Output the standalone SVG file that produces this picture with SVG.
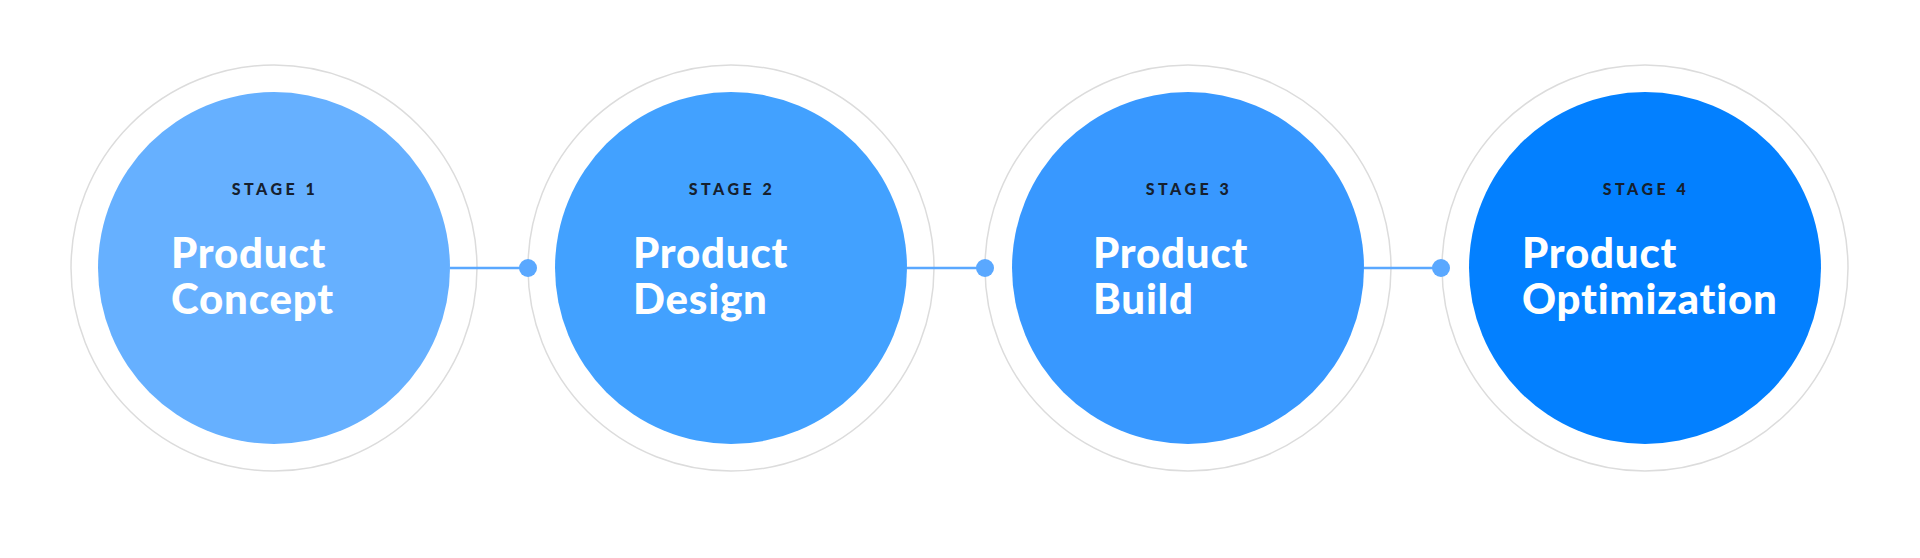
<svg xmlns="http://www.w3.org/2000/svg" width="1920" height="558" viewBox="0 0 1920 558">
<style>
.outer{fill:#fff;stroke:#dcdcdc;stroke-width:1.5}
.stage{font-family:Lato,"Liberation Sans",sans-serif;font-weight:900;font-size:16px;letter-spacing:3.5px;fill:#16202e;text-anchor:middle}
.title{font-family:Lato,"Liberation Sans",sans-serif;font-weight:900;font-size:42px;letter-spacing:0.8px;fill:#fff}
.conn{stroke:#5aa8ff;stroke-width:2.5}
.dot{fill:#5aa8ff}
</style>
<rect width="1920" height="558" fill="#fff"/>
<g id="outer-rings">
<circle class="outer" cx="274" cy="268" r="203"/>
<circle class="outer" cx="731" cy="268" r="203"/>
<circle class="outer" cx="1188" cy="268" r="203"/>
<circle class="outer" cx="1645" cy="268" r="203"/>
</g>
<g id="connectors">
<line class="conn" x1="450" y1="268" x2="528" y2="268"/><circle class="dot" cx="528" cy="268" r="9"/>
<line class="conn" x1="907" y1="268" x2="985" y2="268"/><circle class="dot" cx="985" cy="268" r="9"/>
<line class="conn" x1="1364" y1="268" x2="1441" y2="268"/><circle class="dot" cx="1441" cy="268" r="9"/>
</g>
<g id="stage1"><circle cx="274" cy="268" r="176" fill="#66b0ff"/><text class="stage" x="275" y="195">STAGE 1</text><text class="title" x="171" y="268">Product</text><text class="title" x="171" y="314">Concept</text></g>
<g id="stage2"><circle cx="731" cy="268" r="176" fill="#42a1ff"/><text class="stage" x="732" y="195">STAGE 2</text><text class="title" x="633" y="268">Product</text><text class="title" x="633" y="314">Design</text></g>
<g id="stage3"><circle cx="1188" cy="268" r="176" fill="#3898ff"/><text class="stage" x="1189" y="195">STAGE 3</text><text class="title" x="1093" y="268">Product</text><text class="title" x="1093" y="314">Build</text></g>
<g id="stage4"><circle cx="1645" cy="268" r="176" fill="#0380ff"/><text class="stage" x="1646" y="195">STAGE 4</text><text class="title" x="1522" y="268">Product</text><text class="title" x="1522" y="314">Optimization</text></g>
</svg>
